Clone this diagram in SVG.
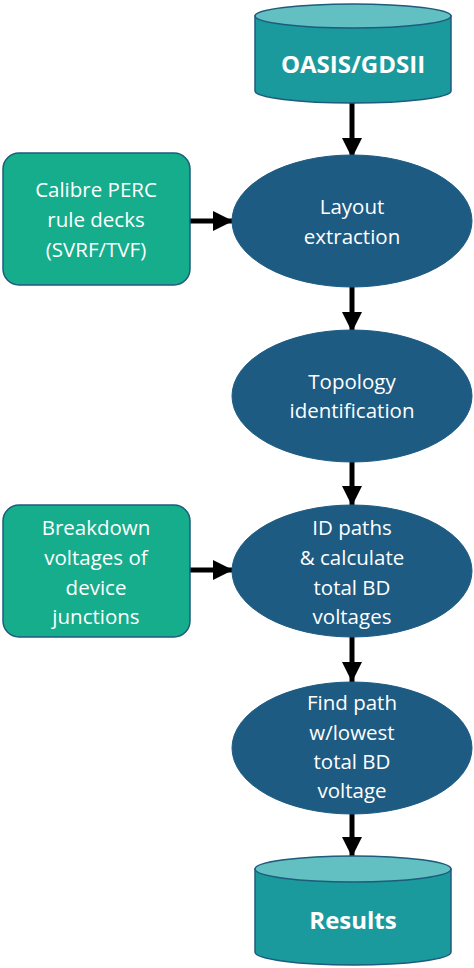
<svg xmlns="http://www.w3.org/2000/svg" width="474" height="968" viewBox="0 0 474 968">
<defs>
<style>
.cylb{fill:#1b9a9e;stroke:#1f5b7c;stroke-width:1.5}
.cylt{fill:#62c0c2;stroke:#1f5b7c;stroke-width:1.5}
.ell{fill:#1d5b83;stroke:#1d5b83;stroke-width:1}
.box{fill:#15ad8c;stroke:#1f5b7c;stroke-width:1.5}
.t{font-family:"Open Sans","Noto Sans",sans-serif;font-size:20.5px;fill:#ffffff;text-anchor:middle}
.tb{font-family:"Open Sans","Noto Sans",sans-serif;font-size:24px;font-weight:bold;fill:#ffffff;text-anchor:middle}
.c{stroke:#000;stroke-width:5;fill:none}
</style>
<marker id="ah" markerUnits="userSpaceOnUse" markerWidth="20" markerHeight="20" refX="20" refY="10" orient="auto">
<path d="M0,0 L20,10 L0,20 z" fill="#000"/>
</marker>
</defs>
<g id="connectors">
<line class="c" x1="352" y1="103" x2="352" y2="158" marker-end="url(#ah)"/>
<line class="c" x1="352" y1="285" x2="352" y2="332" marker-end="url(#ah)"/>
<line class="c" x1="352" y1="461" x2="352" y2="506" marker-end="url(#ah)"/>
<line class="c" x1="352" y1="636" x2="352" y2="682" marker-end="url(#ah)"/>
<line class="c" x1="352" y1="814" x2="352" y2="857" marker-end="url(#ah)"/>
<line class="c" x1="190" y1="221" x2="233" y2="221" marker-end="url(#ah)"/>
<line class="c" x1="190" y1="570" x2="233" y2="570" marker-end="url(#ah)"/>
</g>
<g id="oasis">
<path class="cylb" d="M255,16 L255,91 A98,12 0 0 0 451,91 L451,16 Z"/>
<ellipse class="cylt" cx="353" cy="16" rx="98" ry="12"/>
<text class="tb" x="353" y="73">OASIS/GDSII</text>
</g>
<g id="calibre">
<rect class="box" x="3" y="153" width="187" height="132" rx="16"/>
<text class="t" x="96" y="197">Calibre PERC</text>
<text class="t" x="96" y="227">rule decks</text>
<text class="t" x="96" y="257">(SVRF/TVF)</text>
</g>
<g id="layout">
<ellipse class="ell" cx="352" cy="221" rx="120" ry="66"/>
<text class="t" x="352" y="214">Layout</text>
<text class="t" x="352" y="244">extraction</text>
</g>
<g id="topology">
<ellipse class="ell" cx="352" cy="396" rx="120" ry="66"/>
<text class="t" x="352" y="389">Topology</text>
<text class="t" x="352" y="418">identification</text>
</g>
<g id="breakdown">
<rect class="box" x="3" y="505" width="187" height="132" rx="16"/>
<text class="t" x="96" y="535">Breakdown</text>
<text class="t" x="96" y="565">voltages of</text>
<text class="t" x="96" y="595">device</text>
<text class="t" x="96" y="624">junctions</text>
</g>
<g id="idpaths">
<ellipse class="ell" cx="352" cy="571" rx="120" ry="66"/>
<text class="t" x="352" y="535">ID paths</text>
<text class="t" x="352" y="565">&amp; calculate</text>
<text class="t" x="352" y="595">total BD</text>
<text class="t" x="352" y="624">voltages</text>
</g>
<g id="findpath">
<ellipse class="ell" cx="352" cy="748" rx="120" ry="66"/>
<text class="t" x="352" y="710">Find path</text>
<text class="t" x="352" y="740">w/lowest</text>
<text class="t" x="352" y="769">total BD</text>
<text class="t" x="352" y="798">voltage</text>
</g>
<g id="results">
<path class="cylb" d="M255,869 L255,952 A98,13 0 0 0 451,952 L451,869 Z"/>
<ellipse class="cylt" cx="353" cy="869" rx="98" ry="13"/>
<text class="tb" x="353" y="929">Results</text>
</g>
</svg>
